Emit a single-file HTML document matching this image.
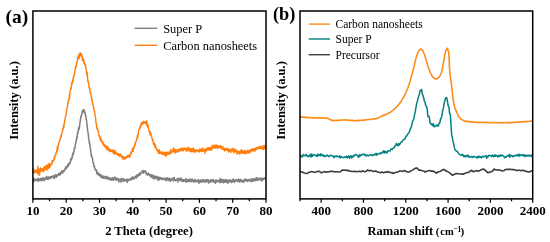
<!DOCTYPE html>
<html><head><meta charset="utf-8"><style>
html,body{margin:0;padding:0;background:#fff;width:550px;height:242px;overflow:hidden}
svg{display:block}
</style></head><body>
<svg width="550" height="242" viewBox="0 0 550 242">
<rect width="550" height="242" fill="#fff"/>
<g fill="none" stroke-linejoin="round" stroke-linecap="round">
<path d="M33.00 180.15 L33.20 179.58 L33.40 179.66 L33.60 178.03 L33.80 181.42 L34.00 180.89 L34.20 179.70 L34.40 180.57 L34.60 180.17 L34.80 179.49 L35.00 180.71 L35.20 179.66 L35.40 179.64 L35.60 179.25 L35.80 180.24 L36.00 179.78 L36.20 180.28 L36.40 179.35 L36.60 179.92 L36.80 179.09 L37.00 180.46 L37.20 179.92 L37.40 180.01 L37.60 180.06 L37.80 178.91 L38.00 180.32 L38.20 181.32 L38.40 178.35 L38.60 178.26 L38.80 178.42 L39.00 180.27 L39.20 179.68 L39.40 180.42 L39.60 180.12 L39.80 179.69 L40.00 179.73 L40.20 179.34 L40.40 180.15 L40.60 178.53 L40.80 179.07 L41.00 179.58 L41.20 180.80 L41.40 178.71 L41.60 178.43 L41.80 178.82 L42.00 180.01 L42.20 179.01 L42.40 180.23 L42.60 177.64 L42.80 180.00 L43.00 179.89 L43.20 177.89 L43.40 179.11 L43.60 179.92 L43.80 178.98 L44.00 179.67 L44.20 180.73 L44.40 179.01 L44.60 178.52 L44.80 178.09 L45.00 179.18 L45.20 178.46 L45.40 178.43 L45.60 178.44 L45.80 179.00 L46.00 177.58 L46.20 177.17 L46.40 176.40 L46.60 179.26 L46.80 178.31 L47.00 179.41 L47.20 178.15 L47.40 177.52 L47.60 178.45 L47.80 177.96 L48.00 176.97 L48.20 177.21 L48.40 179.29 L48.60 178.11 L48.80 178.11 L49.00 177.51 L49.20 177.13 L49.40 178.35 L49.60 177.51 L49.80 176.94 L50.00 177.39 L50.20 176.73 L50.40 177.56 L50.60 178.27 L50.80 176.65 L51.00 178.42 L51.20 176.70 L51.40 177.31 L51.60 176.48 L51.80 176.93 L52.00 177.10 L52.20 176.67 L52.40 176.41 L52.60 176.39 L52.80 176.23 L53.00 175.59 L53.20 176.58 L53.40 177.07 L53.60 177.43 L53.80 177.17 L54.00 178.57 L54.20 176.80 L54.40 176.13 L54.60 177.94 L54.80 175.54 L55.00 177.10 L55.20 175.50 L55.40 176.48 L55.60 174.56 L55.80 176.79 L56.00 175.87 L56.20 175.16 L56.40 177.20 L56.60 176.39 L56.80 175.74 L57.00 175.02 L57.20 175.48 L57.40 175.27 L57.60 175.86 L57.80 175.79 L58.00 174.48 L58.20 174.43 L58.40 174.29 L58.60 173.49 L58.80 173.94 L59.00 174.18 L59.20 174.65 L59.40 175.00 L59.60 173.14 L59.80 174.08 L60.00 173.14 L60.20 175.02 L60.40 173.19 L60.60 173.50 L60.80 172.22 L61.00 172.19 L61.20 172.88 L61.40 172.28 L61.60 172.74 L61.80 171.09 L62.00 172.74 L62.20 171.36 L62.40 173.32 L62.60 171.57 L62.80 172.54 L63.00 170.40 L63.20 171.71 L63.40 170.50 L63.60 170.65 L63.80 170.89 L64.00 170.44 L64.20 170.71 L64.40 170.89 L64.60 170.58 L64.80 169.73 L65.00 168.44 L65.20 168.60 L65.40 168.79 L65.60 166.95 L65.80 168.95 L66.00 167.86 L66.20 167.57 L66.40 168.26 L66.60 167.78 L66.80 167.18 L67.00 165.97 L67.20 166.78 L67.40 166.58 L67.60 165.37 L67.80 166.68 L68.00 166.01 L68.20 163.77 L68.40 165.18 L68.60 163.79 L68.80 165.41 L69.00 164.82 L69.20 162.95 L69.40 162.76 L69.60 163.16 L69.80 162.48 L70.00 163.48 L70.20 162.41 L70.40 161.15 L70.60 161.37 L70.80 158.81 L71.00 160.20 L71.20 160.13 L71.40 158.75 L71.60 157.75 L71.80 158.18 L72.00 158.69 L72.20 156.68 L72.40 155.01 L72.60 156.46 L72.80 153.21 L73.00 154.54 L73.20 153.09 L73.40 153.72 L73.60 151.70 L73.80 152.81 L74.00 151.33 L74.20 148.99 L74.40 148.02 L74.60 148.47 L74.80 148.80 L75.00 146.86 L75.20 145.78 L75.40 144.51 L75.60 144.29 L75.80 142.99 L76.00 141.88 L76.20 139.83 L76.40 140.55 L76.60 139.69 L76.80 136.58 L77.00 138.49 L77.20 136.26 L77.40 134.34 L77.60 132.26 L77.80 133.37 L78.00 132.37 L78.20 130.52 L78.40 128.67 L78.60 130.13 L78.80 127.91 L79.00 127.14 L79.20 128.93 L79.40 127.45 L79.60 125.56 L79.80 123.41 L80.00 123.21 L80.20 119.76 L80.40 120.59 L80.60 118.89 L80.80 117.44 L81.00 116.17 L81.20 116.86 L81.40 115.58 L81.60 114.81 L81.80 114.67 L82.00 112.71 L82.20 111.79 L82.40 110.77 L82.60 111.37 L82.80 111.76 L83.00 110.64 L83.20 110.99 L83.40 109.38 L83.60 109.94 L83.80 109.85 L84.00 109.74 L84.20 112.61 L84.40 112.28 L84.60 111.53 L84.80 112.12 L85.00 113.31 L85.20 112.85 L85.40 115.12 L85.60 114.72 L85.80 116.60 L86.00 117.30 L86.20 118.99 L86.40 119.56 L86.60 120.67 L86.80 122.53 L87.00 124.18 L87.20 125.95 L87.40 127.74 L87.60 130.42 L87.80 131.37 L88.00 132.04 L88.20 134.35 L88.40 134.81 L88.60 138.15 L88.80 139.06 L89.00 139.12 L89.20 142.30 L89.40 143.73 L89.60 142.26 L89.80 145.11 L90.00 146.60 L90.20 146.67 L90.40 148.56 L90.60 149.81 L90.80 152.09 L91.00 153.01 L91.20 155.91 L91.40 154.48 L91.60 156.67 L91.80 156.71 L92.00 157.72 L92.20 157.40 L92.40 157.60 L92.60 159.31 L92.80 161.32 L93.00 162.77 L93.20 162.79 L93.40 163.54 L93.60 163.29 L93.80 166.00 L94.00 166.62 L94.20 165.84 L94.40 166.87 L94.60 166.68 L94.80 169.17 L95.00 168.82 L95.20 168.89 L95.40 169.74 L95.60 170.19 L95.80 169.90 L96.00 169.62 L96.20 169.95 L96.40 169.94 L96.60 172.04 L96.80 173.77 L97.00 170.97 L97.20 172.75 L97.40 173.27 L97.60 172.45 L97.80 173.67 L98.00 172.89 L98.20 174.96 L98.40 173.74 L98.60 174.48 L98.80 175.12 L99.00 174.39 L99.20 173.45 L99.40 174.60 L99.60 175.77 L99.80 175.22 L100.00 175.60 L100.20 174.66 L100.40 175.76 L100.60 176.33 L100.80 175.88 L101.00 177.48 L101.20 175.89 L101.40 175.32 L101.60 174.95 L101.80 177.26 L102.00 176.39 L102.20 177.34 L102.40 176.98 L102.60 178.01 L102.80 177.80 L103.00 176.57 L103.20 177.17 L103.40 177.90 L103.60 176.12 L103.80 178.34 L104.00 178.22 L104.20 178.10 L104.40 177.22 L104.60 177.68 L104.80 176.61 L105.00 177.60 L105.20 177.14 L105.40 177.73 L105.60 177.32 L105.80 178.00 L106.00 178.76 L106.20 176.82 L106.40 178.66 L106.60 176.37 L106.80 176.28 L107.00 177.96 L107.20 178.11 L107.40 178.50 L107.60 176.87 L107.80 178.18 L108.00 178.37 L108.20 179.31 L108.40 178.26 L108.60 178.80 L108.80 177.63 L109.00 178.30 L109.20 178.13 L109.40 179.08 L109.60 177.75 L109.80 177.91 L110.00 179.06 L110.20 180.06 L110.40 178.96 L110.60 178.92 L110.80 178.42 L111.00 179.59 L111.20 179.17 L111.40 180.14 L111.60 179.04 L111.80 178.03 L112.00 178.35 L112.20 178.04 L112.40 177.84 L112.60 179.87 L112.80 179.53 L113.00 177.91 L113.20 180.34 L113.40 179.13 L113.60 178.19 L113.80 179.29 L114.00 178.94 L114.20 178.40 L114.40 177.49 L114.60 179.10 L114.80 179.33 L115.00 177.06 L115.20 179.59 L115.40 179.67 L115.60 178.83 L115.80 179.32 L116.00 179.03 L116.20 178.62 L116.40 179.03 L116.60 180.42 L116.80 178.21 L117.00 179.59 L117.20 179.58 L117.40 178.89 L117.60 179.13 L117.80 178.39 L118.00 178.86 L118.20 179.58 L118.40 179.86 L118.60 178.91 L118.80 182.10 L119.00 179.22 L119.20 179.81 L119.40 179.54 L119.60 179.43 L119.80 180.82 L120.00 179.42 L120.20 180.89 L120.40 180.76 L120.60 179.04 L120.80 180.73 L121.00 179.40 L121.20 182.14 L121.40 179.67 L121.60 179.25 L121.80 178.50 L122.00 179.02 L122.20 179.62 L122.40 179.31 L122.60 179.15 L122.80 179.60 L123.00 180.01 L123.20 181.36 L123.40 178.86 L123.60 179.80 L123.80 179.49 L124.00 179.05 L124.20 179.27 L124.40 179.56 L124.60 180.87 L124.80 180.14 L125.00 179.87 L125.20 180.79 L125.40 180.52 L125.60 180.10 L125.80 180.58 L126.00 179.59 L126.20 180.74 L126.40 180.59 L126.60 179.86 L126.80 179.18 L127.00 181.35 L127.20 180.17 L127.40 182.50 L127.60 179.50 L127.80 180.67 L128.00 179.60 L128.20 180.11 L128.40 180.53 L128.60 179.18 L128.80 179.70 L129.00 179.86 L129.20 179.78 L129.40 180.12 L129.60 180.41 L129.80 180.21 L130.00 179.71 L130.20 179.17 L130.40 178.49 L130.60 178.75 L130.80 178.86 L131.00 179.76 L131.20 178.85 L131.40 178.08 L131.60 179.49 L131.80 178.27 L132.00 178.22 L132.20 178.57 L132.40 179.04 L132.60 176.64 L132.80 177.58 L133.00 178.53 L133.20 178.00 L133.40 177.50 L133.60 177.66 L133.80 179.11 L134.00 177.54 L134.20 178.37 L134.40 178.33 L134.60 177.24 L134.80 177.85 L135.00 177.03 L135.20 176.80 L135.40 176.27 L135.60 177.76 L135.80 176.63 L136.00 176.38 L136.20 175.80 L136.40 178.02 L136.60 177.04 L136.80 176.21 L137.00 175.63 L137.20 174.83 L137.40 176.15 L137.60 176.01 L137.80 174.51 L138.00 176.43 L138.20 175.97 L138.40 174.42 L138.60 174.58 L138.80 174.51 L139.00 174.80 L139.20 174.37 L139.40 172.99 L139.60 175.29 L139.80 174.19 L140.00 174.76 L140.20 174.59 L140.40 173.26 L140.60 173.54 L140.80 173.72 L141.00 173.62 L141.20 172.75 L141.40 172.26 L141.60 172.65 L141.80 171.86 L142.00 171.93 L142.20 170.62 L142.40 172.20 L142.60 171.20 L142.80 171.48 L143.00 171.79 L143.20 172.00 L143.40 173.20 L143.60 171.80 L143.80 170.48 L144.00 171.70 L144.20 171.14 L144.40 171.98 L144.60 171.19 L144.80 171.27 L145.00 171.55 L145.20 171.59 L145.40 170.79 L145.60 171.87 L145.80 172.56 L146.00 173.70 L146.20 172.68 L146.40 172.78 L146.60 173.69 L146.80 173.80 L147.00 174.78 L147.20 174.09 L147.40 173.73 L147.60 174.94 L147.80 175.21 L148.00 173.73 L148.20 174.37 L148.40 173.02 L148.60 174.20 L148.80 173.91 L149.00 174.57 L149.20 174.48 L149.40 174.85 L149.60 175.02 L149.80 175.62 L150.00 175.52 L150.20 175.00 L150.40 174.53 L150.60 176.65 L150.80 176.90 L151.00 175.51 L151.20 176.41 L151.40 174.83 L151.60 174.89 L151.80 176.01 L152.00 177.48 L152.20 175.54 L152.40 175.78 L152.60 177.80 L152.80 175.07 L153.00 177.17 L153.20 177.12 L153.40 176.63 L153.60 177.01 L153.80 179.02 L154.00 176.09 L154.20 176.80 L154.40 176.93 L154.60 176.63 L154.80 176.17 L155.00 178.58 L155.20 177.54 L155.40 176.01 L155.60 176.91 L155.80 177.85 L156.00 177.91 L156.20 176.49 L156.40 177.62 L156.60 177.95 L156.80 178.10 L157.00 178.15 L157.20 176.43 L157.40 179.41 L157.60 178.14 L157.80 179.46 L158.00 180.35 L158.20 177.97 L158.40 177.15 L158.60 178.87 L158.80 178.07 L159.00 177.89 L159.20 177.46 L159.40 179.66 L159.60 177.99 L159.80 177.25 L160.00 178.04 L160.20 177.50 L160.40 178.58 L160.60 178.14 L160.80 177.66 L161.00 179.01 L161.20 178.04 L161.40 179.16 L161.60 179.61 L161.80 178.34 L162.00 178.13 L162.20 178.83 L162.40 179.41 L162.60 178.71 L162.80 178.85 L163.00 178.74 L163.20 179.03 L163.40 179.31 L163.60 178.26 L163.80 178.46 L164.00 178.90 L164.20 178.35 L164.40 179.02 L164.60 179.36 L164.80 178.93 L165.00 178.48 L165.20 178.36 L165.40 180.40 L165.60 179.72 L165.80 178.14 L166.00 178.39 L166.20 180.58 L166.40 180.30 L166.60 179.21 L166.80 180.05 L167.00 177.96 L167.20 179.16 L167.40 179.77 L167.60 177.71 L167.80 178.58 L168.00 179.85 L168.20 180.15 L168.40 178.78 L168.60 179.51 L168.80 180.57 L169.00 179.00 L169.20 178.25 L169.40 179.29 L169.60 179.03 L169.80 180.40 L170.00 179.51 L170.20 178.75 L170.40 181.33 L170.60 179.02 L170.80 179.81 L171.00 179.99 L171.20 180.09 L171.40 179.61 L171.60 179.96 L171.80 179.45 L172.00 178.38 L172.20 179.35 L172.40 179.38 L172.60 179.41 L172.80 179.67 L173.00 179.08 L173.20 180.65 L173.40 180.86 L173.60 177.86 L173.80 179.64 L174.00 179.07 L174.20 177.57 L174.40 179.99 L174.60 179.18 L174.80 179.39 L175.00 179.18 L175.20 180.58 L175.40 180.72 L175.60 179.96 L175.80 180.30 L176.00 179.67 L176.20 179.88 L176.40 179.19 L176.60 179.82 L176.80 179.24 L177.00 180.12 L177.20 180.49 L177.40 180.09 L177.60 180.80 L177.80 182.02 L178.00 178.19 L178.20 179.90 L178.40 179.45 L178.60 179.55 L178.80 178.84 L179.00 179.98 L179.20 179.74 L179.40 179.46 L179.60 179.77 L179.80 179.51 L180.00 178.13 L180.20 180.87 L180.40 179.78 L180.60 179.28 L180.80 180.30 L181.00 179.53 L181.20 178.34 L181.40 180.80 L181.60 178.76 L181.80 179.94 L182.00 180.22 L182.20 181.22 L182.40 181.11 L182.60 180.30 L182.80 179.57 L183.00 179.86 L183.20 181.08 L183.40 181.65 L183.60 180.67 L183.80 179.73 L184.00 181.09 L184.20 179.97 L184.40 179.96 L184.60 180.08 L184.80 180.79 L185.00 180.55 L185.20 181.14 L185.40 181.39 L185.60 180.78 L185.80 178.52 L186.00 179.04 L186.20 180.54 L186.40 180.37 L186.60 182.16 L186.80 180.43 L187.00 180.34 L187.20 181.23 L187.40 181.34 L187.60 180.31 L187.80 180.89 L188.00 179.62 L188.20 179.79 L188.40 181.54 L188.60 179.44 L188.80 181.32 L189.00 181.14 L189.20 181.22 L189.40 181.35 L189.60 181.08 L189.80 178.93 L190.00 179.85 L190.20 180.18 L190.40 181.41 L190.60 179.79 L190.80 180.14 L191.00 180.42 L191.20 181.78 L191.40 179.58 L191.60 179.66 L191.80 181.26 L192.00 179.07 L192.20 181.04 L192.40 180.42 L192.60 179.54 L192.80 180.47 L193.00 180.01 L193.20 180.96 L193.40 181.13 L193.60 182.04 L193.80 180.84 L194.00 180.94 L194.20 180.41 L194.40 180.86 L194.60 181.73 L194.80 179.35 L195.00 181.43 L195.20 180.48 L195.40 180.97 L195.60 181.18 L195.80 181.61 L196.00 181.13 L196.20 180.63 L196.40 181.20 L196.60 180.96 L196.80 180.79 L197.00 181.13 L197.20 181.67 L197.40 181.08 L197.60 181.10 L197.80 179.95 L198.00 180.88 L198.20 179.50 L198.40 181.57 L198.60 180.24 L198.80 182.03 L199.00 183.39 L199.20 180.68 L199.40 182.06 L199.60 181.32 L199.80 180.55 L200.00 180.33 L200.20 181.45 L200.40 182.12 L200.60 181.28 L200.80 179.79 L201.00 180.17 L201.20 180.82 L201.40 182.09 L201.60 181.23 L201.80 181.26 L202.00 181.97 L202.20 180.84 L202.40 180.93 L202.60 180.85 L202.80 179.58 L203.00 181.37 L203.20 181.33 L203.40 181.78 L203.60 180.05 L203.80 180.35 L204.00 181.75 L204.20 181.26 L204.40 182.10 L204.60 180.31 L204.80 181.16 L205.00 180.46 L205.20 181.25 L205.40 180.61 L205.60 181.43 L205.80 181.87 L206.00 181.54 L206.20 179.55 L206.40 181.75 L206.60 181.36 L206.80 180.17 L207.00 180.29 L207.20 181.01 L207.40 181.46 L207.60 180.64 L207.80 179.70 L208.00 181.23 L208.20 181.14 L208.40 182.95 L208.60 179.97 L208.80 183.02 L209.00 182.40 L209.20 181.24 L209.40 182.33 L209.60 181.08 L209.80 181.78 L210.00 180.41 L210.20 181.06 L210.40 180.19 L210.60 179.74 L210.80 180.78 L211.00 180.47 L211.20 181.46 L211.40 182.02 L211.60 180.86 L211.80 181.05 L212.00 181.15 L212.20 179.66 L212.40 181.22 L212.60 181.01 L212.80 180.96 L213.00 180.12 L213.20 179.41 L213.40 180.80 L213.60 181.25 L213.80 182.07 L214.00 181.90 L214.20 182.16 L214.40 181.30 L214.60 181.92 L214.80 180.84 L215.00 181.50 L215.20 181.75 L215.40 183.15 L215.60 181.19 L215.80 179.98 L216.00 182.10 L216.20 180.37 L216.40 180.95 L216.60 180.76 L216.80 180.27 L217.00 182.07 L217.20 181.48 L217.40 180.51 L217.60 181.06 L217.80 180.65 L218.00 181.49 L218.20 180.70 L218.40 180.39 L218.60 180.48 L218.80 180.65 L219.00 181.23 L219.20 180.26 L219.40 180.93 L219.60 181.35 L219.80 182.87 L220.00 181.68 L220.20 178.61 L220.40 180.59 L220.60 180.68 L220.80 181.26 L221.00 182.25 L221.20 181.59 L221.40 179.16 L221.60 181.24 L221.80 181.08 L222.00 181.33 L222.20 182.08 L222.40 180.12 L222.60 181.88 L222.80 179.67 L223.00 181.03 L223.20 181.30 L223.40 182.82 L223.60 180.43 L223.80 179.63 L224.00 181.54 L224.20 180.46 L224.40 182.24 L224.60 180.42 L224.80 180.28 L225.00 181.98 L225.20 181.05 L225.40 181.78 L225.60 179.83 L225.80 182.30 L226.00 180.50 L226.20 181.63 L226.40 180.17 L226.60 179.73 L226.80 180.76 L227.00 181.11 L227.20 182.23 L227.40 181.24 L227.60 181.53 L227.80 181.49 L228.00 183.45 L228.20 180.30 L228.40 181.96 L228.60 180.83 L228.80 181.16 L229.00 180.51 L229.20 181.87 L229.40 179.94 L229.60 179.88 L229.80 180.77 L230.00 180.01 L230.20 181.50 L230.40 181.67 L230.60 180.33 L230.80 181.55 L231.00 180.39 L231.20 180.88 L231.40 180.92 L231.60 182.42 L231.80 180.91 L232.00 180.18 L232.20 180.17 L232.40 181.86 L232.60 179.56 L232.80 180.52 L233.00 180.59 L233.20 178.93 L233.40 180.51 L233.60 181.69 L233.80 181.07 L234.00 180.16 L234.20 181.43 L234.40 181.28 L234.60 182.49 L234.80 180.27 L235.00 180.55 L235.20 180.89 L235.40 180.74 L235.60 180.92 L235.80 180.76 L236.00 180.29 L236.20 179.56 L236.40 180.39 L236.60 179.72 L236.80 179.99 L237.00 180.39 L237.20 181.22 L237.40 181.50 L237.60 179.98 L237.80 181.05 L238.00 181.44 L238.20 180.76 L238.40 179.47 L238.60 179.06 L238.80 181.41 L239.00 181.50 L239.20 180.99 L239.40 179.92 L239.60 181.92 L239.80 181.72 L240.00 180.71 L240.20 180.56 L240.40 179.17 L240.60 181.33 L240.80 179.44 L241.00 181.27 L241.20 181.30 L241.40 180.79 L241.60 181.97 L241.80 180.45 L242.00 181.17 L242.20 181.34 L242.40 180.89 L242.60 180.35 L242.80 181.67 L243.00 181.02 L243.20 180.52 L243.40 180.54 L243.60 180.77 L243.80 182.48 L244.00 180.74 L244.20 180.46 L244.40 179.79 L244.60 179.66 L244.80 179.11 L245.00 180.80 L245.20 180.63 L245.40 179.78 L245.60 179.40 L245.80 180.32 L246.00 180.15 L246.20 179.49 L246.40 180.79 L246.60 180.66 L246.80 180.49 L247.00 181.14 L247.20 179.99 L247.40 181.59 L247.60 179.67 L247.80 180.89 L248.00 180.97 L248.20 180.24 L248.40 180.72 L248.60 179.40 L248.80 179.21 L249.00 180.23 L249.20 179.80 L249.40 180.84 L249.60 180.38 L249.80 180.83 L250.00 180.58 L250.20 180.47 L250.40 180.37 L250.60 179.98 L250.80 179.89 L251.00 181.87 L251.20 178.82 L251.40 180.06 L251.60 181.00 L251.80 180.51 L252.00 181.29 L252.20 180.58 L252.40 179.12 L252.60 179.85 L252.80 178.97 L253.00 180.86 L253.20 181.21 L253.40 179.68 L253.60 180.45 L253.80 179.67 L254.00 178.82 L254.20 179.60 L254.40 178.67 L254.60 179.46 L254.80 180.06 L255.00 180.46 L255.20 180.89 L255.40 179.57 L255.60 180.00 L255.80 180.13 L256.00 180.21 L256.20 177.47 L256.40 179.10 L256.60 180.34 L256.80 178.79 L257.00 179.86 L257.20 180.30 L257.40 178.10 L257.60 179.44 L257.80 179.76 L258.00 179.55 L258.20 178.30 L258.40 179.78 L258.60 179.03 L258.80 180.11 L259.00 179.77 L259.20 178.96 L259.40 179.52 L259.60 178.80 L259.80 178.77 L260.00 178.04 L260.20 179.09 L260.40 179.90 L260.60 179.32 L260.80 179.18 L261.00 178.67 L261.20 178.73 L261.40 179.72 L261.60 177.90 L261.80 180.72 L262.00 178.99 L262.20 180.76 L262.40 179.93 L262.60 178.63 L262.80 179.53 L263.00 179.12 L263.20 179.26 L263.40 179.50 L263.60 178.40 L263.80 178.31 L264.00 178.45 L264.20 177.66 L264.40 178.52 L264.60 178.88 L264.80 178.87 L265.00 178.80 L265.20 178.30" stroke="#808080" stroke-width="1.5"/>
<path d="M33.00 171.66 L33.20 172.62 L33.40 171.74 L33.60 168.69 L33.80 172.93 L34.00 172.11 L34.20 170.28 L34.40 172.45 L34.60 172.07 L34.80 171.97 L35.00 171.49 L35.20 172.50 L35.40 170.08 L35.60 171.18 L35.80 170.58 L36.00 172.64 L36.20 171.57 L36.40 170.94 L36.60 170.00 L36.80 170.98 L37.00 171.47 L37.20 170.92 L37.40 173.88 L37.60 173.31 L37.80 166.22 L38.00 167.76 L38.20 170.99 L38.40 170.49 L38.60 171.66 L38.80 171.64 L39.00 175.21 L39.20 169.04 L39.40 170.40 L39.60 174.96 L39.80 172.27 L40.00 172.26 L40.20 169.98 L40.40 167.77 L40.60 171.16 L40.80 170.98 L41.00 168.37 L41.20 169.33 L41.40 170.40 L41.60 168.65 L41.80 170.17 L42.00 170.43 L42.20 170.22 L42.40 169.09 L42.60 171.07 L42.80 171.53 L43.00 170.33 L43.20 168.06 L43.40 170.90 L43.60 168.45 L43.80 170.97 L44.00 167.16 L44.20 170.83 L44.40 168.96 L44.60 166.53 L44.80 168.22 L45.00 168.83 L45.20 169.16 L45.40 166.68 L45.60 166.36 L45.80 168.75 L46.00 167.39 L46.20 168.63 L46.40 169.53 L46.60 164.86 L46.80 168.37 L47.00 170.11 L47.20 167.11 L47.40 166.02 L47.60 168.87 L47.80 167.80 L48.00 168.89 L48.20 166.40 L48.40 164.11 L48.60 166.57 L48.80 165.79 L49.00 167.96 L49.20 166.70 L49.40 163.07 L49.60 163.72 L49.80 167.49 L50.00 166.30 L50.20 164.79 L50.40 165.22 L50.60 165.45 L50.80 165.23 L51.00 165.38 L51.20 164.48 L51.40 163.82 L51.60 163.34 L51.80 164.31 L52.00 160.64 L52.20 162.38 L52.40 162.16 L52.60 160.30 L52.80 161.65 L53.00 160.24 L53.20 161.33 L53.40 159.90 L53.60 160.25 L53.80 160.35 L54.00 159.06 L54.20 157.35 L54.40 156.26 L54.60 159.05 L54.80 156.69 L55.00 155.61 L55.20 155.91 L55.40 155.04 L55.60 155.52 L55.80 154.13 L56.00 153.53 L56.20 152.20 L56.40 152.78 L56.60 150.65 L56.80 151.70 L57.00 151.87 L57.20 148.11 L57.40 146.44 L57.60 148.77 L57.80 149.96 L58.00 145.70 L58.20 144.65 L58.40 145.80 L58.60 143.54 L58.80 143.22 L59.00 142.45 L59.20 142.71 L59.40 141.36 L59.60 141.24 L59.80 140.30 L60.00 139.00 L60.20 139.01 L60.40 137.68 L60.60 138.02 L60.80 136.04 L61.00 135.28 L61.20 137.12 L61.40 134.95 L61.60 134.10 L61.80 134.07 L62.00 132.51 L62.20 132.05 L62.40 131.81 L62.60 130.49 L62.80 128.74 L63.00 130.01 L63.20 128.01 L63.40 126.55 L63.60 125.45 L63.80 125.01 L64.00 126.98 L64.20 122.76 L64.40 123.48 L64.60 120.27 L64.80 120.21 L65.00 120.51 L65.20 118.31 L65.40 116.88 L65.60 116.64 L65.80 115.87 L66.00 114.75 L66.20 114.15 L66.40 111.95 L66.60 109.73 L66.80 109.53 L67.00 108.14 L67.20 107.81 L67.40 106.69 L67.60 105.50 L67.80 102.58 L68.00 103.89 L68.20 101.10 L68.40 99.65 L68.60 100.21 L68.80 100.48 L69.00 98.40 L69.20 97.47 L69.40 94.03 L69.60 98.46 L69.80 94.28 L70.00 91.30 L70.20 91.11 L70.40 90.73 L70.60 88.82 L70.80 88.90 L71.00 86.92 L71.20 87.85 L71.40 88.49 L71.60 82.83 L71.80 83.62 L72.00 82.08 L72.20 82.52 L72.40 83.71 L72.60 80.20 L72.80 79.58 L73.00 81.69 L73.20 79.14 L73.40 76.89 L73.60 78.17 L73.80 75.78 L74.00 75.38 L74.20 73.99 L74.40 75.47 L74.60 71.94 L74.80 71.23 L75.00 71.91 L75.20 68.16 L75.40 69.50 L75.60 66.85 L75.80 65.73 L76.00 65.45 L76.20 66.86 L76.40 65.50 L76.60 62.92 L76.80 63.96 L77.00 61.52 L77.20 62.23 L77.40 60.70 L77.60 57.35 L77.80 59.20 L78.00 57.28 L78.20 56.42 L78.40 56.78 L78.60 54.58 L78.80 55.20 L79.00 58.03 L79.20 58.68 L79.40 55.34 L79.60 54.75 L79.80 55.15 L80.00 52.63 L80.20 53.39 L80.40 55.85 L80.60 53.27 L80.80 53.88 L81.00 55.64 L81.20 53.82 L81.40 53.77 L81.60 53.94 L81.80 57.80 L82.00 55.67 L82.20 56.86 L82.40 60.38 L82.60 57.22 L82.80 59.69 L83.00 59.75 L83.20 60.19 L83.40 61.36 L83.60 59.13 L83.80 62.40 L84.00 63.30 L84.20 62.01 L84.40 61.88 L84.60 64.30 L84.80 65.03 L85.00 64.06 L85.20 65.26 L85.40 66.13 L85.60 64.74 L85.80 68.78 L86.00 67.89 L86.20 69.13 L86.40 72.69 L86.60 73.80 L86.80 71.55 L87.00 74.77 L87.20 75.86 L87.40 72.81 L87.60 80.72 L87.80 78.96 L88.00 80.36 L88.20 82.57 L88.40 82.60 L88.60 82.26 L88.80 85.08 L89.00 87.50 L89.20 86.30 L89.40 87.57 L89.60 89.52 L89.80 87.80 L90.00 90.41 L90.20 92.90 L90.40 92.07 L90.60 91.85 L90.80 94.45 L91.00 94.16 L91.20 97.55 L91.40 96.98 L91.60 99.23 L91.80 98.27 L92.00 101.30 L92.20 99.97 L92.40 101.69 L92.60 104.61 L92.80 103.32 L93.00 104.22 L93.20 104.72 L93.40 106.14 L93.60 108.58 L93.80 107.48 L94.00 108.82 L94.20 111.10 L94.40 110.87 L94.60 111.18 L94.80 113.23 L95.00 113.92 L95.20 116.79 L95.40 117.09 L95.60 117.71 L95.80 120.37 L96.00 123.42 L96.20 122.43 L96.40 125.13 L96.60 124.79 L96.80 128.69 L97.00 128.21 L97.20 128.10 L97.40 128.23 L97.60 129.67 L97.80 131.13 L98.00 130.63 L98.20 130.46 L98.40 132.51 L98.60 132.70 L98.80 135.16 L99.00 135.85 L99.20 135.79 L99.40 136.68 L99.60 135.47 L99.80 137.90 L100.00 137.75 L100.20 138.86 L100.40 140.61 L100.60 137.08 L100.80 139.92 L101.00 139.19 L101.20 141.12 L101.40 139.56 L101.60 140.66 L101.80 141.74 L102.00 142.48 L102.20 142.05 L102.40 141.88 L102.60 142.38 L102.80 144.04 L103.00 143.54 L103.20 142.08 L103.40 144.87 L103.60 144.48 L103.80 145.36 L104.00 144.44 L104.20 145.91 L104.40 144.26 L104.60 146.07 L104.80 145.07 L105.00 146.38 L105.20 147.07 L105.40 145.49 L105.60 146.41 L105.80 146.63 L106.00 147.98 L106.20 147.62 L106.40 145.94 L106.60 147.77 L106.80 148.27 L107.00 149.83 L107.20 146.19 L107.40 147.53 L107.60 149.58 L107.80 147.09 L108.00 147.42 L108.20 149.30 L108.40 149.97 L108.60 148.49 L108.80 149.85 L109.00 149.60 L109.20 151.15 L109.40 149.78 L109.60 150.92 L109.80 149.17 L110.00 150.02 L110.20 150.23 L110.40 151.58 L110.60 151.14 L110.80 149.92 L111.00 151.46 L111.20 151.65 L111.40 150.87 L111.60 150.83 L111.80 150.99 L112.00 149.58 L112.20 151.56 L112.40 151.70 L112.60 150.69 L112.80 152.39 L113.00 150.36 L113.20 151.27 L113.40 151.44 L113.60 154.00 L113.80 150.50 L114.00 152.76 L114.20 153.24 L114.40 152.77 L114.60 153.67 L114.80 151.58 L115.00 150.39 L115.20 153.53 L115.40 151.66 L115.60 152.62 L115.80 151.86 L116.00 154.18 L116.20 154.08 L116.40 152.58 L116.60 154.30 L116.80 153.61 L117.00 153.43 L117.20 153.72 L117.40 153.55 L117.60 154.46 L117.80 154.25 L118.00 153.68 L118.20 155.13 L118.40 153.60 L118.60 154.60 L118.80 154.83 L119.00 155.98 L119.20 154.09 L119.40 156.44 L119.60 154.97 L119.80 154.70 L120.00 154.33 L120.20 155.70 L120.40 155.28 L120.60 154.26 L120.80 154.38 L121.00 155.10 L121.20 155.13 L121.40 157.05 L121.60 157.48 L121.80 157.13 L122.00 156.77 L122.20 156.12 L122.40 156.74 L122.60 157.70 L122.80 159.06 L123.00 157.95 L123.20 156.85 L123.40 157.24 L123.60 156.77 L123.80 156.51 L124.00 157.12 L124.20 157.50 L124.40 159.13 L124.60 157.35 L124.80 158.65 L125.00 159.06 L125.20 157.36 L125.40 158.89 L125.60 157.99 L125.80 156.85 L126.00 157.52 L126.20 157.27 L126.40 157.00 L126.60 157.03 L126.80 157.36 L127.00 157.63 L127.20 156.28 L127.40 157.09 L127.60 155.48 L127.80 157.14 L128.00 157.35 L128.20 156.72 L128.40 156.65 L128.60 156.75 L128.80 155.27 L129.00 155.46 L129.20 155.97 L129.40 156.22 L129.60 155.37 L129.80 157.29 L130.00 154.41 L130.20 155.26 L130.40 155.27 L130.60 153.61 L130.80 152.64 L131.00 151.99 L131.20 153.03 L131.40 153.66 L131.60 152.49 L131.80 152.05 L132.00 151.15 L132.20 151.72 L132.40 148.65 L132.60 150.64 L132.80 150.04 L133.00 148.24 L133.20 151.36 L133.40 147.36 L133.60 147.21 L133.80 146.62 L134.00 148.42 L134.20 145.85 L134.40 146.92 L134.60 146.28 L134.80 145.34 L135.00 143.25 L135.20 143.25 L135.40 144.96 L135.60 141.46 L135.80 141.26 L136.00 141.40 L136.20 141.49 L136.40 140.62 L136.60 140.16 L136.80 137.76 L137.00 138.90 L137.20 138.16 L137.40 135.43 L137.60 137.83 L137.80 137.80 L138.00 133.48 L138.20 133.68 L138.40 134.30 L138.60 130.52 L138.80 129.74 L139.00 129.46 L139.20 129.42 L139.40 128.87 L139.60 129.02 L139.80 128.03 L140.00 125.85 L140.20 127.43 L140.40 128.05 L140.60 126.85 L140.80 126.26 L141.00 123.98 L141.20 124.80 L141.40 122.80 L141.60 123.78 L141.80 123.05 L142.00 124.64 L142.20 123.85 L142.40 122.14 L142.60 122.84 L142.80 123.71 L143.00 121.73 L143.20 121.68 L143.40 121.66 L143.60 121.24 L143.80 123.04 L144.00 123.28 L144.20 123.00 L144.40 122.68 L144.60 122.36 L144.80 122.55 L145.00 121.76 L145.20 122.63 L145.40 123.10 L145.60 123.42 L145.80 121.61 L146.00 122.14 L146.20 122.02 L146.40 124.16 L146.60 122.91 L146.80 120.77 L147.00 123.95 L147.20 126.55 L147.40 125.43 L147.60 126.86 L147.80 126.44 L148.00 124.69 L148.20 125.76 L148.40 126.79 L148.60 129.10 L148.80 129.71 L149.00 131.45 L149.20 130.90 L149.40 132.23 L149.60 132.30 L149.80 132.64 L150.00 134.25 L150.20 133.43 L150.40 131.58 L150.60 134.20 L150.80 135.51 L151.00 133.26 L151.20 136.08 L151.40 136.47 L151.60 136.38 L151.80 137.11 L152.00 138.16 L152.20 138.75 L152.40 140.92 L152.60 140.43 L152.80 139.05 L153.00 140.35 L153.20 142.01 L153.40 143.85 L153.60 142.76 L153.80 142.95 L154.00 145.23 L154.20 143.82 L154.40 143.75 L154.60 143.31 L154.80 144.54 L155.00 147.67 L155.20 144.60 L155.40 146.39 L155.60 145.38 L155.80 147.34 L156.00 148.43 L156.20 147.61 L156.40 148.85 L156.60 149.17 L156.80 149.26 L157.00 150.80 L157.20 150.17 L157.40 149.37 L157.60 149.27 L157.80 149.37 L158.00 150.95 L158.20 150.38 L158.40 153.66 L158.60 152.98 L158.80 151.11 L159.00 151.17 L159.20 153.35 L159.40 149.93 L159.60 151.50 L159.80 153.03 L160.00 151.30 L160.20 151.85 L160.40 152.09 L160.60 153.21 L160.80 152.80 L161.00 153.16 L161.20 153.45 L161.40 152.98 L161.60 154.16 L161.80 152.42 L162.00 151.81 L162.20 151.57 L162.40 151.83 L162.60 153.00 L162.80 154.68 L163.00 153.92 L163.20 153.25 L163.40 152.87 L163.60 153.50 L163.80 153.71 L164.00 153.63 L164.20 152.83 L164.40 153.85 L164.60 155.40 L164.80 152.25 L165.00 154.22 L165.20 152.36 L165.40 154.68 L165.60 153.75 L165.80 152.39 L166.00 154.55 L166.20 156.22 L166.40 154.45 L166.60 155.43 L166.80 154.11 L167.00 151.93 L167.20 154.48 L167.40 153.47 L167.60 152.31 L167.80 154.44 L168.00 153.82 L168.20 152.89 L168.40 154.17 L168.60 152.31 L168.80 153.71 L169.00 152.01 L169.20 153.38 L169.40 151.64 L169.60 154.14 L169.80 152.83 L170.00 153.93 L170.20 151.61 L170.40 151.89 L170.60 153.15 L170.80 149.50 L171.00 151.12 L171.20 153.16 L171.40 152.53 L171.60 152.99 L171.80 151.64 L172.00 152.46 L172.20 151.11 L172.40 150.41 L172.60 150.03 L172.80 151.12 L173.00 151.07 L173.20 150.94 L173.40 147.97 L173.60 149.47 L173.80 150.89 L174.00 151.66 L174.20 150.74 L174.40 150.40 L174.60 148.92 L174.80 153.20 L175.00 150.03 L175.20 152.77 L175.40 152.60 L175.60 151.27 L175.80 150.38 L176.00 151.04 L176.20 149.72 L176.40 151.09 L176.60 150.79 L176.80 151.27 L177.00 151.65 L177.20 152.39 L177.40 150.23 L177.60 151.62 L177.80 149.75 L178.00 149.61 L178.20 149.84 L178.40 149.44 L178.60 151.36 L178.80 151.26 L179.00 151.56 L179.20 150.22 L179.40 150.47 L179.60 149.58 L179.80 148.96 L180.00 150.51 L180.20 150.29 L180.40 148.87 L180.60 150.52 L180.80 148.15 L181.00 149.67 L181.20 149.18 L181.40 149.24 L181.60 148.65 L181.80 150.65 L182.00 150.23 L182.20 150.83 L182.40 149.75 L182.60 148.29 L182.80 149.18 L183.00 148.35 L183.20 149.98 L183.40 150.72 L183.60 149.83 L183.80 148.89 L184.00 149.11 L184.20 149.69 L184.40 148.03 L184.60 149.65 L184.80 149.69 L185.00 148.95 L185.20 149.09 L185.40 149.68 L185.60 148.70 L185.80 148.70 L186.00 150.30 L186.20 149.77 L186.40 151.24 L186.60 148.57 L186.80 147.81 L187.00 150.53 L187.20 150.56 L187.40 148.88 L187.60 148.17 L187.80 149.61 L188.00 147.91 L188.20 149.34 L188.40 147.51 L188.60 149.48 L188.80 147.61 L189.00 149.51 L189.20 151.29 L189.40 149.52 L189.60 150.58 L189.80 149.20 L190.00 148.96 L190.20 148.37 L190.40 150.94 L190.60 149.86 L190.80 151.56 L191.00 148.78 L191.20 149.76 L191.40 150.10 L191.60 151.47 L191.80 151.92 L192.00 149.50 L192.20 149.07 L192.40 148.52 L192.60 151.65 L192.80 150.29 L193.00 149.79 L193.20 150.45 L193.40 148.00 L193.60 148.89 L193.80 151.61 L194.00 151.12 L194.20 150.93 L194.40 149.82 L194.60 151.45 L194.80 152.67 L195.00 149.69 L195.20 150.95 L195.40 150.51 L195.60 151.31 L195.80 150.96 L196.00 150.79 L196.20 150.04 L196.40 150.90 L196.60 150.28 L196.80 150.73 L197.00 150.80 L197.20 151.49 L197.40 150.23 L197.60 150.47 L197.80 151.84 L198.00 150.52 L198.20 150.45 L198.40 151.54 L198.60 150.92 L198.80 150.71 L199.00 150.81 L199.20 149.32 L199.40 150.99 L199.60 151.83 L199.80 151.06 L200.00 148.89 L200.20 150.71 L200.40 149.49 L200.60 150.15 L200.80 150.48 L201.00 149.13 L201.20 151.63 L201.40 150.20 L201.60 151.03 L201.80 150.84 L202.00 151.52 L202.20 151.34 L202.40 148.65 L202.60 150.13 L202.80 147.92 L203.00 149.58 L203.20 150.71 L203.40 150.88 L203.60 151.22 L203.80 149.52 L204.00 150.18 L204.20 149.92 L204.40 151.06 L204.60 151.33 L204.80 149.35 L205.00 153.46 L205.20 149.64 L205.40 149.23 L205.60 150.15 L205.80 150.27 L206.00 150.02 L206.20 148.78 L206.40 150.85 L206.60 149.39 L206.80 150.82 L207.00 150.62 L207.20 147.90 L207.40 148.16 L207.60 148.05 L207.80 149.25 L208.00 149.00 L208.20 149.15 L208.40 148.01 L208.60 149.18 L208.80 150.11 L209.00 147.26 L209.20 148.36 L209.40 148.72 L209.60 148.30 L209.80 148.14 L210.00 150.04 L210.20 149.51 L210.40 149.05 L210.60 147.36 L210.80 150.29 L211.00 148.38 L211.20 147.32 L211.40 147.46 L211.60 147.28 L211.80 149.83 L212.00 147.88 L212.20 147.69 L212.40 145.28 L212.60 148.23 L212.80 146.32 L213.00 146.14 L213.20 147.79 L213.40 146.32 L213.60 147.85 L213.80 148.04 L214.00 145.09 L214.20 146.61 L214.40 145.19 L214.60 146.62 L214.80 147.57 L215.00 145.25 L215.20 148.31 L215.40 146.28 L215.60 145.27 L215.80 146.41 L216.00 147.20 L216.20 145.13 L216.40 146.46 L216.60 145.14 L216.80 147.70 L217.00 146.60 L217.20 146.09 L217.40 147.64 L217.60 145.37 L217.80 146.21 L218.00 148.46 L218.20 146.59 L218.40 148.14 L218.60 147.00 L218.80 146.15 L219.00 146.72 L219.20 147.09 L219.40 146.65 L219.60 146.22 L219.80 146.35 L220.00 145.69 L220.20 147.29 L220.40 147.73 L220.60 148.13 L220.80 145.64 L221.00 148.40 L221.20 147.65 L221.40 146.34 L221.60 147.98 L221.80 148.79 L222.00 148.55 L222.20 148.88 L222.40 149.24 L222.60 149.26 L222.80 148.45 L223.00 146.51 L223.20 147.94 L223.40 149.14 L223.60 148.39 L223.80 149.60 L224.00 149.79 L224.20 149.09 L224.40 150.97 L224.60 148.19 L224.80 150.14 L225.00 148.77 L225.20 148.53 L225.40 149.93 L225.60 148.78 L225.80 150.29 L226.00 148.32 L226.20 149.56 L226.40 148.72 L226.60 149.37 L226.80 149.29 L227.00 148.57 L227.20 150.39 L227.40 148.53 L227.60 148.83 L227.80 150.74 L228.00 150.86 L228.20 150.59 L228.40 150.30 L228.60 152.27 L228.80 148.82 L229.00 149.32 L229.20 149.10 L229.40 151.03 L229.60 150.45 L229.80 151.31 L230.00 151.20 L230.20 150.04 L230.40 149.48 L230.60 149.34 L230.80 152.58 L231.00 151.37 L231.20 151.03 L231.40 150.14 L231.60 150.31 L231.80 150.20 L232.00 150.26 L232.20 148.22 L232.40 150.60 L232.60 150.32 L232.80 151.03 L233.00 150.99 L233.20 151.68 L233.40 150.86 L233.60 151.71 L233.80 148.39 L234.00 149.90 L234.20 152.77 L234.40 149.87 L234.60 150.86 L234.80 151.89 L235.00 150.35 L235.20 152.00 L235.40 149.89 L235.60 149.45 L235.80 150.08 L236.00 149.80 L236.20 151.49 L236.40 151.23 L236.60 151.92 L236.80 150.60 L237.00 154.23 L237.20 151.63 L237.40 151.72 L237.60 152.27 L237.80 151.61 L238.00 151.26 L238.20 152.02 L238.40 152.89 L238.60 152.68 L238.80 152.99 L239.00 151.52 L239.20 151.35 L239.40 154.16 L239.60 151.95 L239.80 152.70 L240.00 152.99 L240.20 153.70 L240.40 150.96 L240.60 151.85 L240.80 151.92 L241.00 152.08 L241.20 149.99 L241.40 152.32 L241.60 149.54 L241.80 152.75 L242.00 153.00 L242.20 153.07 L242.40 151.27 L242.60 153.44 L242.80 151.62 L243.00 151.26 L243.20 151.51 L243.40 151.63 L243.60 152.65 L243.80 153.28 L244.00 150.34 L244.20 151.88 L244.40 153.30 L244.60 152.58 L244.80 152.85 L245.00 150.81 L245.20 153.23 L245.40 150.68 L245.60 152.40 L245.80 153.52 L246.00 154.00 L246.20 152.58 L246.40 152.90 L246.60 151.37 L246.80 151.44 L247.00 153.04 L247.20 151.82 L247.40 151.63 L247.60 150.29 L247.80 151.80 L248.00 152.23 L248.20 150.73 L248.40 150.96 L248.60 152.99 L248.80 151.53 L249.00 151.00 L249.20 150.10 L249.40 150.55 L249.60 150.87 L249.80 152.43 L250.00 150.39 L250.20 152.74 L250.40 149.95 L250.60 150.45 L250.80 151.58 L251.00 150.43 L251.20 149.76 L251.40 150.38 L251.60 150.87 L251.80 148.63 L252.00 150.01 L252.20 150.06 L252.40 149.68 L252.60 150.73 L252.80 149.34 L253.00 149.45 L253.20 149.76 L253.40 150.37 L253.60 149.33 L253.80 150.98 L254.00 148.47 L254.20 150.58 L254.40 148.36 L254.60 148.97 L254.80 149.43 L255.00 151.06 L255.20 149.83 L255.40 148.44 L255.60 150.07 L255.80 148.49 L256.00 147.84 L256.20 149.01 L256.40 148.56 L256.60 149.31 L256.80 147.79 L257.00 148.61 L257.20 148.79 L257.40 148.36 L257.60 147.94 L257.80 147.22 L258.00 148.77 L258.20 147.97 L258.40 148.24 L258.60 147.24 L258.80 147.65 L259.00 146.58 L259.20 147.69 L259.40 148.33 L259.60 147.69 L259.80 148.41 L260.00 147.86 L260.20 148.90 L260.40 147.26 L260.60 145.89 L260.80 147.95 L261.00 147.32 L261.20 146.55 L261.40 148.17 L261.60 147.75 L261.80 147.94 L262.00 147.16 L262.20 147.70 L262.40 147.74 L262.60 149.29 L262.80 146.75 L263.00 147.48 L263.20 147.81 L263.40 145.76 L263.60 145.91 L263.80 149.67 L264.00 145.73 L264.20 148.08 L264.40 146.70 L264.60 146.70 L264.80 145.55 L265.00 146.55 L265.20 148.27" stroke="#ff7f0e" stroke-width="1.35"/>
<path d="M300.50 171.64 L302.10 171.93 L303.70 172.74 L305.30 173.18 L306.90 173.43 L308.50 172.60 L310.10 171.93 L311.70 171.52 L313.30 171.97 L314.90 172.35 L316.50 171.83 L318.10 171.29 L319.70 171.55 L321.30 172.82 L322.90 172.33 L324.50 171.58 L326.10 172.36 L327.70 171.70 L329.30 171.60 L330.90 171.36 L332.50 171.19 L334.10 171.89 L335.70 171.81 L337.30 171.72 L338.90 172.09 L340.50 171.77 L342.10 170.04 L343.70 170.30 L345.30 170.03 L346.90 170.62 L348.50 170.40 L350.10 171.22 L351.70 171.40 L353.30 171.49 L354.90 171.35 L356.50 171.77 L358.10 171.51 L359.70 171.26 L361.30 171.71 L362.90 170.84 L364.50 171.68 L366.10 171.33 L367.70 169.98 L369.30 170.93 L370.90 170.35 L372.50 171.10 L374.10 171.46 L375.70 170.90 L377.30 171.93 L378.90 172.11 L380.50 172.83 L382.10 172.00 L383.70 172.93 L385.30 172.00 L386.90 172.08 L388.50 171.64 L390.10 172.70 L391.70 172.48 L393.30 173.47 L394.90 172.60 L396.50 172.26 L398.10 171.86 L399.70 171.01 L401.30 171.07 L402.90 171.39 L404.50 170.48 L406.10 171.44 L407.70 171.97 L409.30 172.04 L410.90 170.88 L412.50 170.14 L414.10 169.04 L415.70 168.08 L417.30 168.12 L418.90 170.22 L420.50 170.11 L422.10 170.73 L423.70 171.01 L425.30 171.95 L426.90 171.15 L428.50 170.73 L430.10 170.55 L431.70 171.19 L433.30 171.02 L434.90 172.06 L436.50 173.23 L438.10 171.87 L439.70 171.49 L441.30 170.78 L442.90 169.66 L444.50 169.64 L446.10 171.14 L447.70 171.56 L449.30 172.58 L450.90 173.88 L452.50 175.30 L454.10 174.42 L455.70 173.75 L457.30 173.51 L458.90 173.77 L460.50 173.93 L462.10 174.16 L463.70 174.10 L465.30 173.14 L466.90 172.56 L468.50 172.34 L470.10 171.22 L471.70 170.29 L473.30 171.78 L474.90 171.16 L476.50 170.57 L478.10 171.24 L479.70 170.56 L481.30 169.70 L482.90 169.12 L484.50 169.55 L486.10 171.08 L487.70 172.61 L489.30 172.41 L490.90 171.63 L492.50 171.14 L494.10 169.05 L495.70 169.88 L497.30 169.93 L498.90 169.92 L500.50 170.35 L502.10 170.99 L503.70 170.73 L505.30 169.65 L506.90 169.24 L508.50 169.33 L510.10 169.20 L511.70 169.58 L513.30 169.53 L514.90 169.75 L516.50 170.60 L518.10 170.29 L519.70 170.27 L521.30 170.71 L522.90 170.17 L524.50 170.69 L526.10 171.49 L527.70 171.58 L529.30 171.98 L530.90 171.20 L532.50 170.34" stroke="#3c3c3c" stroke-width="1.6"/>
<path d="M300.50 155.51 L301.20 155.81 L301.90 157.14 L302.60 156.33 L303.30 154.56 L304.00 155.74 L304.70 155.24 L305.40 155.78 L306.10 154.43 L306.80 155.79 L307.50 155.75 L308.20 156.73 L308.90 155.76 L309.60 155.89 L310.30 154.37 L311.00 157.16 L311.70 154.02 L312.40 156.27 L313.10 155.18 L313.80 154.76 L314.50 154.92 L315.20 154.91 L315.90 155.69 L316.60 155.32 L317.30 156.51 L318.00 154.03 L318.70 155.40 L319.40 154.75 L320.10 156.01 L320.80 153.87 L321.50 155.23 L322.20 155.67 L322.90 154.44 L323.60 156.33 L324.30 155.77 L325.00 156.44 L325.70 156.45 L326.40 155.04 L327.10 155.22 L327.80 155.71 L328.50 156.47 L329.20 156.59 L329.90 155.46 L330.60 155.58 L331.30 155.48 L332.00 155.69 L332.70 156.00 L333.40 156.13 L334.10 157.83 L334.80 155.97 L335.50 156.19 L336.20 156.81 L336.90 155.81 L337.60 156.30 L338.30 156.64 L339.00 157.27 L339.70 155.75 L340.40 157.82 L341.10 156.57 L341.80 157.00 L342.50 157.55 L343.20 157.44 L343.90 157.76 L344.60 157.11 L345.30 156.98 L346.00 157.24 L346.70 156.24 L347.40 157.87 L348.10 156.33 L348.80 155.90 L349.50 158.31 L350.20 156.58 L350.90 155.70 L351.60 157.87 L352.30 156.13 L353.00 157.06 L353.70 155.53 L354.40 155.86 L355.10 154.68 L355.80 154.41 L356.50 155.02 L357.20 155.62 L357.90 156.21 L358.60 157.37 L359.30 154.73 L360.00 156.21 L360.70 154.96 L361.40 155.26 L362.10 154.22 L362.80 154.19 L363.50 154.68 L364.20 154.33 L364.90 155.19 L365.60 154.64 L366.30 156.07 L367.00 155.21 L367.70 155.19 L368.40 155.88 L369.10 155.38 L369.80 154.92 L370.50 154.83 L371.20 154.76 L371.90 155.60 L372.60 155.32 L373.30 154.95 L374.00 155.20 L374.70 154.11 L375.40 154.79 L376.10 153.21 L376.80 155.13 L377.50 154.02 L378.20 153.91 L378.90 154.03 L379.60 153.37 L380.30 152.98 L381.00 153.84 L381.70 152.81 L382.40 151.82 L383.10 152.61 L383.80 150.78 L384.50 153.09 L385.20 151.50 L385.90 151.43 L386.60 152.86 L387.30 152.53 L388.00 150.74 L388.70 150.84 L389.40 150.89 L390.10 151.01 L390.80 149.28 L391.50 149.05 L392.20 149.40 L392.90 148.19 L393.60 148.09 L394.30 147.49 L395.00 145.68 L395.70 145.50 L396.40 143.56 L397.10 144.92 L397.80 145.69 L398.50 143.64 L399.20 145.02 L399.90 144.18 L400.60 142.53 L401.30 142.22 L402.00 141.81 L402.70 140.36 L403.40 139.96 L404.10 139.51 L404.80 139.10 L405.50 137.70 L406.20 136.07 L406.90 135.86 L407.60 133.91 L408.30 133.62 L409.00 133.04 L409.70 130.95 L410.40 128.80 L411.10 127.37 L411.80 125.11 L412.50 121.71 L413.20 119.98 L413.90 118.47 L414.60 114.51 L415.30 111.38 L416.00 107.49 L416.70 103.23 L417.40 101.17 L418.10 97.84 L418.80 96.04 L419.50 93.44 L420.20 90.16 L420.90 90.74 L421.60 89.41 L422.30 94.23 L423.00 95.44 L423.70 97.93 L424.40 101.25 L425.10 102.42 L425.80 105.78 L426.50 106.57 L427.20 109.16 L427.90 116.54 L428.60 116.20 L429.30 116.99 L430.00 122.89 L430.70 123.53 L431.40 124.60 L432.10 123.95 L432.80 125.85 L433.50 123.67 L434.20 126.81 L434.90 126.59 L435.60 126.19 L436.30 125.30 L437.00 124.98 L437.70 126.14 L438.40 125.77 L439.10 123.28 L439.80 123.04 L440.50 119.05 L441.20 118.38 L441.90 115.61 L442.60 110.62 L443.30 108.74 L444.00 103.82 L444.70 101.43 L445.40 98.46 L446.10 97.56 L446.80 97.94 L447.50 101.69 L448.20 105.79 L448.90 106.67 L449.60 113.35 L450.30 114.05 L451.00 125.24 L451.70 134.84 L452.40 137.98 L453.10 141.69 L453.80 144.52 L454.50 147.97 L455.20 150.15 L455.90 150.55 L456.60 151.34 L457.30 151.44 L458.00 152.45 L458.70 153.64 L459.40 154.08 L460.10 154.55 L460.80 154.93 L461.50 155.54 L462.20 154.34 L462.90 154.75 L463.60 156.51 L464.30 156.44 L465.00 155.54 L465.70 157.02 L466.40 155.64 L467.10 156.04 L467.80 154.93 L468.50 156.98 L469.20 156.38 L469.90 157.22 L470.60 156.97 L471.30 156.53 L472.00 156.60 L472.70 157.40 L473.40 156.40 L474.10 156.43 L474.80 156.61 L475.50 157.17 L476.20 157.27 L476.90 158.03 L477.60 156.54 L478.30 157.56 L479.00 156.13 L479.70 157.08 L480.40 156.72 L481.10 157.92 L481.80 157.05 L482.50 156.23 L483.20 156.96 L483.90 156.74 L484.60 156.20 L485.30 156.16 L486.00 155.61 L486.70 158.32 L487.40 156.29 L488.10 156.86 L488.80 155.19 L489.50 155.18 L490.20 155.82 L490.90 155.77 L491.60 156.42 L492.30 155.02 L493.00 156.13 L493.70 156.83 L494.40 154.98 L495.10 156.33 L495.80 154.92 L496.50 155.90 L497.20 155.92 L497.90 156.97 L498.60 155.17 L499.30 155.84 L500.00 156.52 L500.70 154.90 L501.40 155.80 L502.10 155.19 L502.80 155.35 L503.50 156.42 L504.20 156.47 L504.90 157.90 L505.60 157.03 L506.30 156.98 L507.00 155.90 L507.70 155.81 L508.40 156.14 L509.10 154.32 L509.80 157.25 L510.50 155.48 L511.20 155.15 L511.90 155.56 L512.60 156.52 L513.30 156.76 L514.00 155.50 L514.70 156.06 L515.40 155.65 L516.10 154.90 L516.80 155.74 L517.50 155.60 L518.20 154.40 L518.90 156.36 L519.60 154.34 L520.30 155.70 L521.00 154.73 L521.70 154.91 L522.40 154.99 L523.10 156.05 L523.80 154.58 L524.50 155.39 L525.20 156.70 L525.90 155.02 L526.60 155.53 L527.30 156.06 L528.00 155.13 L528.70 155.94 L529.40 155.11 L530.10 156.15 L530.80 155.69 L531.50 154.97 L532.20 156.76" stroke="#008080" stroke-width="1.5"/>
<path d="M300.50 117.24 L301.00 116.73 L301.50 117.12 L302.00 117.04 L302.50 117.08 L303.00 117.15 L303.50 116.96 L304.00 117.21 L304.50 117.17 L305.00 117.70 L305.50 117.36 L306.00 117.32 L306.50 117.36 L307.00 117.35 L307.50 117.33 L308.00 117.44 L308.50 117.57 L309.00 117.51 L309.50 117.69 L310.00 117.58 L310.50 117.63 L311.00 117.85 L311.50 117.76 L312.00 117.66 L312.50 117.74 L313.00 117.86 L313.50 118.06 L314.00 117.82 L314.50 117.86 L315.00 118.03 L315.50 117.83 L316.00 117.92 L316.50 118.08 L317.00 118.06 L317.50 118.01 L318.00 118.08 L318.50 117.66 L319.00 118.12 L319.50 117.88 L320.00 117.80 L320.50 118.03 L321.00 118.08 L321.50 117.95 L322.00 117.87 L322.50 118.00 L323.00 117.99 L323.50 118.17 L324.00 118.09 L324.50 118.02 L325.00 118.13 L325.50 117.98 L326.00 117.89 L326.50 118.11 L327.00 118.21 L327.50 118.28 L328.00 118.42 L328.50 118.79 L329.00 118.72 L329.50 119.38 L330.00 119.64 L330.50 119.65 L331.00 120.09 L331.50 120.18 L332.00 120.55 L332.50 120.32 L333.00 120.49 L333.50 120.68 L334.00 120.72 L334.50 120.31 L335.00 120.49 L335.50 120.56 L336.00 120.42 L336.50 120.65 L337.00 120.28 L337.50 120.42 L338.00 120.21 L338.50 120.47 L339.00 120.26 L339.50 120.17 L340.00 119.97 L340.50 120.35 L341.00 120.20 L341.50 120.17 L342.00 120.19 L342.50 120.07 L343.00 119.94 L343.50 119.91 L344.00 119.90 L344.50 120.17 L345.00 119.84 L345.50 119.95 L346.00 120.01 L346.50 120.09 L347.00 120.16 L347.50 119.97 L348.00 119.95 L348.50 120.19 L349.00 120.37 L349.50 120.35 L350.00 120.33 L350.50 120.30 L351.00 120.41 L351.50 120.38 L352.00 120.54 L352.50 120.38 L353.00 120.52 L353.50 120.52 L354.00 120.62 L354.50 120.60 L355.00 120.89 L355.50 120.78 L356.00 120.78 L356.50 120.35 L357.00 120.55 L357.50 120.50 L358.00 120.62 L358.50 120.26 L359.00 120.64 L359.50 120.60 L360.00 120.27 L360.50 120.27 L361.00 120.25 L361.50 120.31 L362.00 120.33 L362.50 120.45 L363.00 120.12 L363.50 120.19 L364.00 120.06 L364.50 120.19 L365.00 120.02 L365.50 120.04 L366.00 119.69 L366.50 119.74 L367.00 119.61 L367.50 119.83 L368.00 119.68 L368.50 119.51 L369.00 119.45 L369.50 119.51 L370.00 119.32 L370.50 119.24 L371.00 119.36 L371.50 119.55 L372.00 119.17 L372.50 119.07 L373.00 118.94 L373.50 118.85 L374.00 119.01 L374.50 118.97 L375.00 118.79 L375.50 118.74 L376.00 118.61 L376.50 118.50 L377.00 118.15 L377.50 118.10 L378.00 117.96 L378.50 117.63 L379.00 117.43 L379.50 117.14 L380.00 116.94 L380.50 116.83 L381.00 116.43 L381.50 116.21 L382.00 116.10 L382.50 115.86 L383.00 115.77 L383.50 115.10 L384.00 115.25 L384.50 114.88 L385.00 114.74 L385.50 114.61 L386.00 114.43 L386.50 114.20 L387.00 113.87 L387.50 113.82 L388.00 113.35 L388.50 113.11 L389.00 112.96 L389.50 112.52 L390.00 112.56 L390.50 112.11 L391.00 111.93 L391.50 111.32 L392.00 110.91 L392.50 110.59 L393.00 110.26 L393.50 109.69 L394.00 109.38 L394.50 108.89 L395.00 108.63 L395.50 107.89 L396.00 107.62 L396.50 106.92 L397.00 106.37 L397.50 105.86 L398.00 105.23 L398.50 104.79 L399.00 104.27 L399.50 103.52 L400.00 102.90 L400.50 102.34 L401.00 101.46 L401.50 100.71 L402.00 99.87 L402.50 98.90 L403.00 98.33 L403.50 97.15 L404.00 96.52 L404.50 95.49 L405.00 94.63 L405.50 93.44 L406.00 92.25 L406.50 91.25 L407.00 89.95 L407.50 88.73 L408.00 87.42 L408.50 86.01 L409.00 84.54 L409.50 82.95 L410.00 81.46 L410.50 79.55 L411.00 78.02 L411.50 76.05 L412.00 74.44 L412.50 72.55 L413.00 70.27 L413.50 68.55 L414.00 66.45 L414.50 64.21 L415.00 62.28 L415.50 60.11 L416.00 58.03 L416.50 56.49 L417.00 55.00 L417.50 53.64 L418.00 52.26 L418.50 51.57 L419.00 50.89 L419.50 50.02 L420.00 49.55 L420.50 49.28 L421.00 49.14 L421.50 49.61 L422.00 49.83 L422.50 50.24 L423.00 50.91 L423.50 51.91 L424.00 53.50 L424.50 54.69 L425.00 56.21 L425.50 57.89 L426.00 59.57 L426.50 61.61 L427.00 62.94 L427.50 64.70 L428.00 66.25 L428.50 67.89 L429.00 69.17 L429.50 70.88 L430.00 71.85 L430.50 73.01 L431.00 73.97 L431.50 74.96 L432.00 75.94 L432.50 76.62 L433.00 77.10 L433.50 77.64 L434.00 78.03 L434.50 78.34 L435.00 78.73 L435.50 78.90 L436.00 78.89 L436.50 78.91 L437.00 78.78 L437.50 78.34 L438.00 77.88 L438.50 77.56 L439.00 77.23 L439.50 76.40 L440.00 75.66 L440.50 74.72 L441.00 73.75 L441.50 72.07 L442.00 70.49 L442.50 67.93 L443.00 64.90 L443.50 62.41 L444.00 59.41 L444.50 56.53 L445.00 54.14 L445.50 51.54 L446.00 49.93 L446.50 49.09 L447.00 48.12 L447.50 48.81 L448.00 49.86 L448.50 51.88 L449.00 55.61 L449.50 67.90 L450.00 74.34 L450.50 78.33 L451.00 81.32 L451.50 84.84 L452.00 89.51 L452.50 94.09 L453.00 98.23 L453.50 101.61 L454.00 104.55 L454.50 106.70 L455.00 108.61 L455.50 109.84 L456.00 110.60 L456.50 111.54 L457.00 112.72 L457.50 114.07 L458.00 115.24 L458.50 116.04 L459.00 116.87 L459.50 117.48 L460.00 118.21 L460.50 118.67 L461.00 119.12 L461.50 119.38 L462.00 119.65 L462.50 120.05 L463.00 120.20 L463.50 120.42 L464.00 120.80 L464.50 120.86 L465.00 121.35 L465.50 121.22 L466.00 121.14 L466.50 121.41 L467.00 121.45 L467.50 121.40 L468.00 121.69 L468.50 121.54 L469.00 121.33 L469.50 121.85 L470.00 121.73 L470.50 122.02 L471.00 121.81 L471.50 121.79 L472.00 122.16 L472.50 121.88 L473.00 122.07 L473.50 122.26 L474.00 122.13 L474.50 122.14 L475.00 122.20 L475.50 122.31 L476.00 122.14 L476.50 122.34 L477.00 122.36 L477.50 122.59 L478.00 122.29 L478.50 122.24 L479.00 122.46 L479.50 122.34 L480.00 122.43 L480.50 122.43 L481.00 122.57 L481.50 122.36 L482.00 122.44 L482.50 122.16 L483.00 122.37 L483.50 122.67 L484.00 122.42 L484.50 122.42 L485.00 122.37 L485.50 122.60 L486.00 122.56 L486.50 122.41 L487.00 122.64 L487.50 122.60 L488.00 122.67 L488.50 122.51 L489.00 122.81 L489.50 122.66 L490.00 122.60 L490.50 122.56 L491.00 122.60 L491.50 122.74 L492.00 122.61 L492.50 122.78 L493.00 122.73 L493.50 122.82 L494.00 122.77 L494.50 122.67 L495.00 122.45 L495.50 122.72 L496.00 122.78 L496.50 122.71 L497.00 122.76 L497.50 122.64 L498.00 122.65 L498.50 122.58 L499.00 122.86 L499.50 122.72 L500.00 122.64 L500.50 122.54 L501.00 122.68 L501.50 122.87 L502.00 122.75 L502.50 122.60 L503.00 122.86 L503.50 122.85 L504.00 122.79 L504.50 122.76 L505.00 122.80 L505.50 122.72 L506.00 122.74 L506.50 122.55 L507.00 122.81 L507.50 122.65 L508.00 122.86 L508.50 122.36 L509.00 122.68 L509.50 122.71 L510.00 122.54 L510.50 122.62 L511.00 122.63 L511.50 122.59 L512.00 122.44 L512.50 122.46 L513.00 122.57 L513.50 122.58 L514.00 122.41 L514.50 122.37 L515.00 122.36 L515.50 122.43 L516.00 122.14 L516.50 122.08 L517.00 122.22 L517.50 122.03 L518.00 122.06 L518.50 122.11 L519.00 122.12 L519.50 121.90 L520.00 122.10 L520.50 121.75 L521.00 122.00 L521.50 121.71 L522.00 121.71 L522.50 121.91 L523.00 121.75 L523.50 121.66 L524.00 121.67 L524.50 121.74 L525.00 121.64 L525.50 121.60 L526.00 121.69 L526.50 121.44 L527.00 121.43 L527.50 121.38 L528.00 121.54 L528.50 121.48 L529.00 121.47 L529.50 121.27 L530.00 121.21 L530.50 121.29 L531.00 121.09 L531.50 121.19 L532.00 121.13 L532.50 120.92" stroke="#ff8c1a" stroke-width="1.6"/>
</g>
<g fill="none" stroke="#000" stroke-width="1.5">
<rect x="32.9" y="11.0" width="233.10" height="187.90"/>
<rect x="300.0" y="11.0" width="232.70" height="187.90"/>
<path d="M32.90 198.90 V202.80 M49.55 198.90 V201.20 M66.20 198.90 V202.80 M82.85 198.90 V201.20 M99.50 198.90 V202.80 M116.15 198.90 V201.20 M132.80 198.90 V202.80 M149.45 198.90 V201.20 M166.10 198.90 V202.80 M182.75 198.90 V201.20 M199.40 198.90 V202.80 M216.05 198.90 V201.20 M232.70 198.90 V202.80 M249.35 198.90 V201.20 M266.00 198.90 V202.80 M300.00 198.90 V201.20 M321.15 198.90 V202.80 M342.31 198.90 V201.20 M363.46 198.90 V202.80 M384.62 198.90 V201.20 M405.77 198.90 V202.80 M426.93 198.90 V201.20 M448.08 198.90 V202.80 M469.24 198.90 V201.20 M490.39 198.90 V202.80 M511.55 198.90 V201.20 M532.70 198.90 V202.80" stroke-width="1.2"/>
</g>
<g font-family="'Liberation Serif', 'Times New Roman', serif">
<g font-weight="bold" font-size="13" text-anchor="middle">
<text x="32.90" y="215.1">10</text><text x="66.20" y="215.1">20</text><text x="99.50" y="215.1">30</text><text x="132.80" y="215.1">40</text><text x="166.10" y="215.1">50</text><text x="199.40" y="215.1">60</text><text x="232.70" y="215.1">70</text><text x="266.00" y="215.1">80</text><text x="321.15" y="215.1">400</text><text x="363.46" y="215.1">800</text><text x="405.77" y="215.1">1200</text><text x="448.08" y="215.1">1600</text><text x="490.39" y="215.1">2000</text><text x="532.70" y="215.1">2400</text>
</g>
<g font-weight="bold" font-size="12.6" text-anchor="middle">
<text x="149" y="235">2 Theta (degree)</text>
<text x="0" y="0" transform="translate(17.6 100.4) rotate(-90)">Intensity (a.u.)</text>
<text x="0" y="0" transform="translate(285.2 100.4) rotate(-90)">Intensity (a.u.)</text>
</g>
<g font-weight="bold">
<text x="367.6" y="234.7" font-size="12.5">Raman shift</text>
<text x="435.8" y="234.9" font-size="10.5">(</text>
<text x="440.3" y="234.7" font-size="10.5">cm</text>
<text x="453.4" y="230.6" font-size="7.5">&#8722;</text>
<text x="457.6" y="232.0" font-size="7.5">1</text>
<text x="460.4" y="235.2" font-size="11.2">)</text>
</g>
<g font-weight="bold" font-size="19.5">
<text x="5.6" y="23.3">(a)</text>
<text x="273.0" y="20.2" font-size="18.3">(b)</text>
</g>
<g font-size="12.4">
<text x="163.2" y="33">Super P</text>
<text x="163.2" y="49.9">Carbon nanosheets</text>
</g>
<g font-size="11.5">
<text x="335.5" y="28.2">Carbon nanosheets</text>
<text x="335.5" y="43.3">Super P</text>
<text x="335.5" y="58.6">Precursor</text>
</g>
</g>
<g stroke-width="1.4">
<path d="M134.6 28.3 H157.3" stroke="#808080"/>
<path d="M134.6 45.3 H157.3" stroke="#ff7f0e"/>
<path d="M308.7 24.1 H330" stroke="#ff8c1a"/>
<path d="M308.7 39 H330" stroke="#008080"/>
<path d="M308.7 54.7 H330" stroke="#404040"/>
</g>
</svg>
</body></html>
